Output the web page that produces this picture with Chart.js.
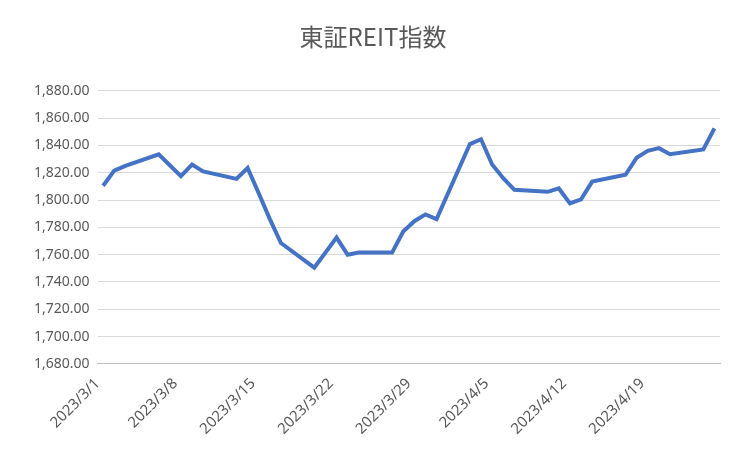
<!DOCTYPE html>
<html><head><meta charset="utf-8">
<script src="https://cdn.jsdelivr.net/npm/chart.js@4"></script>
<style>html,body{margin:0;background:#fff}#w{width:752px;height:453px}</style>
</head><body><div id="w"><canvas id="c"></canvas></div>
<script>
const title = "東証REIT指数";
const dates = ["3/1","3/2","3/3","3/6","3/7","3/8","3/9","3/10","3/13","3/14","3/15","3/16","3/17","3/20","3/22","3/23","3/24","3/27","3/28","3/29","3/30","3/31","4/3","4/4","4/5","4/6","4/7","4/10","4/11","4/12","4/13","4/14","4/17","4/18","4/19","4/20","4/21","4/24","4/25"];
const dayIndex = [0,1,2,5,6,7,8,9,12,13,14,15,16,19,21,22,23,26,27,28,29,30,33,34,35,36,37,40,41,42,43,44,47,48,49,50,51,54,55];
const values = [1810.5,1821.5,1825,1833.5,1825.5,1817.5,1826,1821,1815.5,1823.5,1805,1786,1768.5,1750.5,1772.5,1760,1761.5,1761.5,1777,1784.5,1789.5,1786,1841,1844.5,1826,1816,1807.5,1806,1808.5,1797.5,1800.5,1813.5,1818.5,1831,1836,1838,1833.5,1837,1852.5];
const tickLabels = ["2023/3/1","2023/3/8","2023/3/15","2023/3/22","2023/3/29","2023/4/5","2023/4/12","2023/4/19"];
new Chart(document.getElementById('c'),{
 type:'line',
 data:{datasets:[{data:dayIndex.map((d,i)=>({x:d+0.5,y:values[i]})),borderColor:'#4472C4',borderWidth:4,pointRadius:0,tension:0,fill:false}]},
 options:{responsive:true,maintainAspectRatio:false,animation:false,
  layout:{padding:{left:26,right:32,top:10,bottom:12}},
  plugins:{legend:{display:false},tooltip:{enabled:false},
   title:{display:true,text:title,color:'#595959',font:{size:24,weight:'normal',family:'Noto Sans CJK JP'},padding:{top:12,bottom:40}}},
  scales:{
   x:{type:'linear',min:0,max:56,
    grid:{display:false,drawTicks:true},border:{color:'#bfbfbf'},
    ticks:{stepSize:7,autoSkip:false,maxRotation:45,minRotation:45,color:'#595959',font:{size:15,family:'Noto Sans'},
     callback:(v)=>tickLabels[v/7]??''}},
   y:{min:1680,max:1880,
    grid:{color:'#d9d9d9',drawTicks:false},border:{display:false},
    ticks:{stepSize:20,padding:8,color:'#595959',font:{size:14,family:'Noto Sans'},
     callback:(v)=>v.toLocaleString('en-US',{minimumFractionDigits:2,maximumFractionDigits:2})}}
  }}
});
</script></body></html>
